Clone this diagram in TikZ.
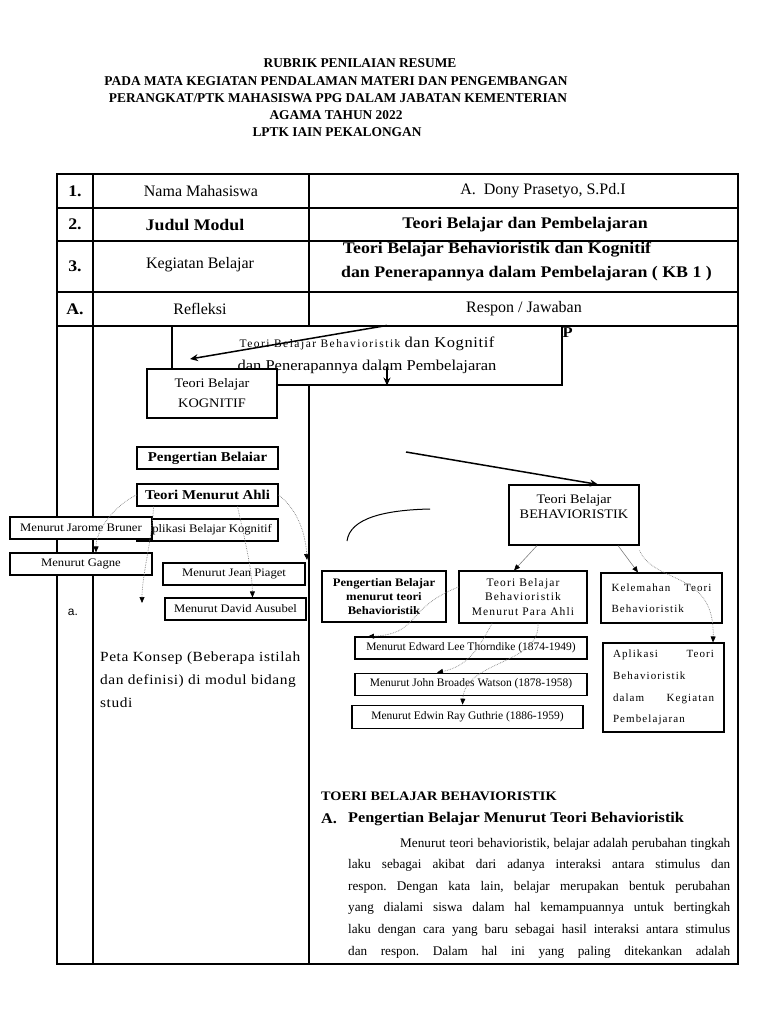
\documentclass[tikz,border=0pt]{standalone}
\usepackage{fontspec}
\setmainfont{Liberation Serif}
\newfontfamily\cam[FakeStretch=1.1]{Liberation Serif}
\newfontfamily\lsp[LetterSpace=10]{Liberation Serif}
\newfontfamily\camsp[FakeStretch=1.1,LetterSpace=4]{Liberation Serif}
\newfontfamily\arial{Liberation Sans}
\usetikzlibrary{arrows.meta,positioning}
\frenchspacing

\newcommand{\jline}[2]{\makebox[#1][s]{#2}}

\tikzset{
  tbl/.style={line width=1.2pt},
  ttl/.style={font=\bfseries\fontsize{13.4}{16}\selectfont},
  cell/.style={font=\fontsize{16}{19}\selectfont},
  cellb/.style={font=\cam\bfseries\fontsize{16.2}{19}\selectfont},
  mapbox/.style={draw, fill=white, line width=1.1pt, inner sep=0pt, align=center},
  kbox/.style={mapbox, minimum width=142pt, minimum height=22pt, font=\cam\fontsize{11.5}{14}\selectfont},
  bbox/.style={mapbox, minimum width=232pt, minimum height=22pt, font=\fontsize{11.5}{14}\selectfont},
  main arrow/.style={-{Stealth[length=8pt,width=7pt]}, line width=1.5pt},
  dot arrow/.style={-{Triangle[length=6pt,width=5pt,color=black]}, gray, densely dotted, line width=0.7pt},
  grey arrow/.style={-{Triangle[length=6pt,width=5pt,color=black]}, gray, line width=0.6pt},
  txtline/.style={anchor=west, inner sep=0pt, text height=9pt, text depth=3pt, font=\fontsize{13.2}{15}\selectfont},
}

\begin{document}
\begin{tikzpicture}[x=1pt,y=-1pt]
\useasboundingbox (0,0) rectangle (768,1024);

% judul
\node[ttl] (ttl1) at (360,63) {RUBRIK PENILAIAN RESUME};
\node[ttl] (ttl2) at (336,81) {PADA MATA KEGIATAN PENDALAMAN MATERI DAN PENGEMBANGAN};
\node[ttl] (ttl3) at (338,98) {PERANGKAT/PTK MAHASISWA PPG DALAM JABATAN KEMENTERIAN};
\node[ttl] (ttl4) at (336,115) {AGAMA TAHUN 2022};
\node[ttl] (ttl5) at (337,132) {LPTK IAIN PEKALONGAN};

% tabel
\draw[tbl] (57,174) rectangle (738,964);
\draw[tbl] (93,174) -- (93,964) (309,174) -- (309,964);
\foreach \y in {208,241,292,326}
  \draw[tbl] (57,\y) -- (738,\y);

\node[cellb] (no1) at (75,191) {1.};
\node[cell] (nama) at (201,191) {Nama Mahasiswa};
\node[cell] (namaisi) at (543,191) {A.\enspace Dony Prasetyo, S.Pd.I};
\node[cellb] (no2) at (75,224.5) {2.};
\node[cellb] (judul) at (195,224.5) {Judul Modul};
\node[cellb] (judulisi) at (525,224.5) {Teori Belajar dan Pembelajaran};
\node[cellb] (no3) at (75,266.5) {3.};
\node[cell] (kb) at (200,265) {Kegiatan Belajar};
\node[cellb] (kbisi1) at (497,250) {Teori Belajar Behavioristik dan Kognitif};
\node[cellb] (kbisi2) at (526.5,274) {dan Penerapannya dalam Pembelajaran ( KB 1 )};
\node[cellb] (noA) at (75,309) {A.};
\node[cell] (refleksi) at (200,309) {Refleksi};
\node[cell] (respon) at (524,309) {Respon / Jawaban};

% peta konsep
\node[font=\cam\bfseries\fontsize{15}{16}\selectfont, anchor=east, inner sep=0pt] (konsep) at (573,333) {EP};
\node[mapbox, minimum width=390pt, minimum height=59pt, font=\cam\fontsize{15}{23}\selectfont] (induk) at (367,355.5)
  {{\lsp\addfontfeature{LetterSpace=13}\fontsize{11.5}{23}\selectfont Teori Belajar Behavioristik} {\camsp\fontsize{15}{23}\selectfont dan Kognitif}\\
   dan Penerapannya dalam Pembelajaran};
\node[mapbox, minimum width=130pt, minimum height=49pt, font=\cam\fontsize{13}{20}\selectfont] (kognitif) at (212,393.5)
  {Teori Belajar\\KOGNITIF};

\node[kbox, minimum width=141pt, font=\cam\bfseries\fontsize{13.5}{15}\selectfont] (pengertian) at (207.5,458) {Pengertian Belaiar};
\node[kbox, minimum width=141pt, font=\cam\bfseries\fontsize{13.5}{15}\selectfont] (ahli) at (207.5,495) {Teori Menurut Ahli};
\node[kbox, minimum width=141pt] (aplikasi) at (207.5,530) {Aplikasi Belajar Kognitif};
\node[kbox] (bruner) at (81,528) {Menurut Jarome Bruner};
\node[kbox] (gagne) at (81,564) {Menurut Gagne};
\node[kbox] (piaget) at (234,574) {Menurut Jean Piaget};
\node[kbox, minimum width=141pt] (ausubel) at (235.5,609) {Menurut David Ausubel};
\node[font=\arial\fontsize{12}{14}\selectfont] (poin) at (73,612) {a.};
\node[font=\camsp\fontsize{14}{23}\selectfont, align=left, anchor=north west, inner sep=0pt] (peta) at (100,652)
  {Peta Konsep (Beberapa istilah\\dan definisi) di modul bidang\\studi};

\node[mapbox, minimum width=130pt, minimum height=60pt] (behav) at (574,515) {};
\node[font=\cam\fontsize{13}{15}\selectfont, align=center] (behavtxt) at (574,507) {Teori Belajar\\BEHAVIORISTIK};
\node[mapbox, minimum width=124pt, minimum height=51pt, font=\cam\bfseries\fontsize{11.5}{14}\selectfont] (pbeh) at (384,596.5)
  {Pengertian Belajar\\menurut teori\\Behavioristik};
\node[mapbox, minimum width=128pt, minimum height=52pt, font=\lsp\fontsize{11.5}{14.5}\selectfont] (ahlib) at (523,597)
  {Teori Belajar\\Behavioristik\\Menurut Para Ahli};
\node[mapbox, minimum width=121pt, minimum height=50pt, font=\lsp\fontsize{11}{21}\selectfont, align=left] (kelemahan) at (661.5,598)
  {\jline{100pt}{Kelemahan Teori}\\Behavioristik};
\node[bbox] (thorndike) at (471,648) {Menurut Edward Lee Thorndike (1874-1949)};
\node[bbox, below=13pt of thorndike] (watson) {Menurut John Broades Watson (1878-1958)};
\node[bbox, minimum width=231pt, minimum height=23pt, below=9pt of watson, xshift=-3.5pt] (guthrie) {Menurut Edwin Ray Guthrie (1886-1959)};
\node[mapbox, minimum width=121pt, minimum height=89pt, font=\lsp\fontsize{11}{21.7}\selectfont, align=left] (aplikasib) at (663.5,687.5)
  {\jline{101pt}{Aplikasi Teori}\\Behavioristik\\\jline{101pt}{dalam Kegiatan}\\Pembelajaran};

% panah
\coordinate (kogtip) at (190,359);
\coordinate (dnstart) at (387,367);
\coordinate (bstart) at (406,452);
\coordinate (arcA) at (347,541);
\coordinate (arcB) at (430,509);
\coordinate (kogend) at (142,603);
\coordinate (colend) at (307,560);
\draw[main arrow] ([xshift=20pt]induk.north) -- (kogtip);
\draw[main arrow] (dnstart) -- ([xshift=20pt]induk.south);
\draw[main arrow] (bstart) -- ([xshift=24pt]behav.north);
\draw[line width=1pt] (arcA) .. controls (350,518) and (385,510) .. (arcB);

\draw[dot arrow] (ahli.west) .. controls (115,505) and (96,530) .. ([xshift=15pt]gagne.north);
\draw[dot arrow] ([xshift=-54pt]ahli.south) .. controls (152,540) and (142,575) .. (kogend);
\draw[dot arrow] ([xshift=30pt]ahli.south) .. controls (245,540) and (252,570) .. ([xshift=17pt]ausubel.north);
\draw[dot arrow] (ahli.east) .. controls (292,505) and (305,525) .. (colend);

\draw[grey arrow] ([xshift=-37pt]behav.south) -- ([xshift=-9pt]ahlib.north);
\draw[grey arrow] ([xshift=44pt]behav.south) -- ([xshift=-23.5pt]kelemahan.north);
\draw[dot arrow] ([yshift=-5pt]behav.south east) .. controls (655,585) and (715,570) .. ([xshift=49.5pt]aplikasib.north);
\draw[dot arrow] ([yshift=10pt]ahlib.west) .. controls (405,608) and (420,634) .. ([xshift=-103pt]thorndike.north);
\draw[dot arrow] ([xshift=-31pt]ahlib.south) .. controls (480,645) and (470,666) .. ([xshift=-34pt]watson.north);
\draw[dot arrow] ([xshift=15pt]ahlib.south) .. controls (540,665) and (465,660) .. ([xshift=-5pt]guthrie.north);

% teks uraian
\node[font=\cam\bfseries\fontsize{13}{15}\selectfont, anchor=west, inner sep=0pt] (bab) at (321,796) {TOERI BELAJAR BEHAVIORISTIK};
\node[font=\cam\bfseries\fontsize{14.8}{15}\selectfont, anchor=west, inner sep=0pt] (subA) at (321,819) {A.};
\node[font=\cam\bfseries\fontsize{14.8}{15}\selectfont, anchor=west, inner sep=0pt] (subjudul) at (348,819) {Pengertian Belajar Menurut Teori Behavioristik};
\node[txtline] (par0) at (400,844) {\jline{330pt}{Menurut teori behavioristik, belajar adalah perubahan tingkah}};
\foreach \baris [count=\i] in {
  {laku sebagai akibat dari adanya interaksi antara stimulus dan},
  {respon. Dengan kata lain, belajar merupakan bentuk perubahan},
  {yang dialami siswa dalam hal kemampuannya untuk bertingkah},
  {laku dengan cara yang baru sebagai hasil interaksi antara stimulus},
  {dan respon. Dalam hal ini yang paling ditekankan adalah}}
  \node[txtline] (par\i) at (348,844+21.6*\i) {\jline{382pt}{\baris}};
\end{tikzpicture}
\end{document}
